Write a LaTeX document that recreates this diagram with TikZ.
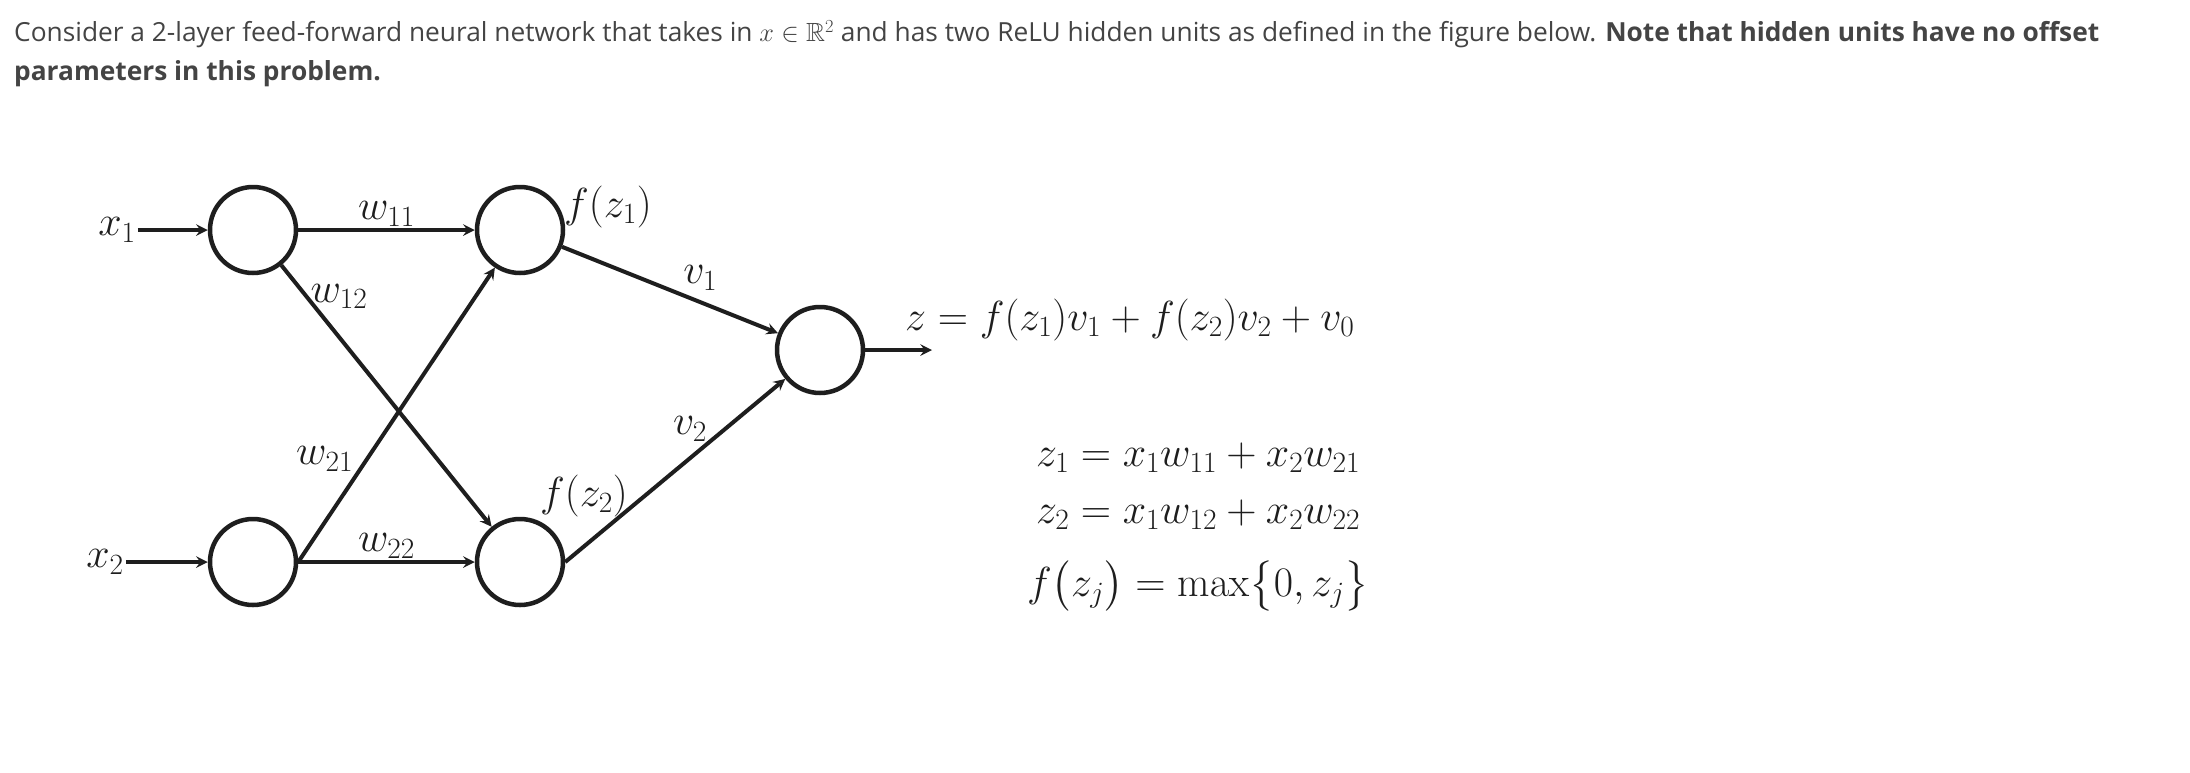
\RequirePackage{fix-cm}
\documentclass[tikz,border=0pt]{standalone}
\usepackage{amsmath}
\usepackage{amssymb}
\usepackage[no-math]{fontspec}
\setmainfont{Open Sans}
\usepackage{xcolor}
\usepackage{tikz}
\usetikzlibrary{arrows, positioning}
\definecolor{qtext}{HTML}{444444}
\definecolor{netblack}{HTML}{1E1E1E}
\tikzstyle{neuron} = [circle, minimum size=86pt, inner sep=0pt, draw=netblack, line width=4.5pt]
\tikzstyle{arrow} = [line width=4pt, draw=netblack, ->, >=stealth]
\tikzstyle{lbl} = [text=netblack, font=\fontsize{42}{50}\selectfont, inner sep=2pt]
\tikzstyle{eqn} = [lbl, anchor=west, inner sep=0pt]

\begin{document}
\begin{tikzpicture}[x=1pt, y=1pt, node distance=267pt, on grid]

\useasboundingbox (0,0) rectangle (2190,-772);
\fill[white] (0,0) rectangle (2190,-772);

% Question
\node (question) [anchor=north west, align=left, text=qtext, font=\fontsize{26.3}{39}\selectfont, inner sep=0pt] at (14,-20) {Consider a 2-layer feed-forward neural network that takes in $x \in \mathbb{R}^2$ and has two ReLU hidden units as defined in the figure below. \textbf{Note that hidden units have no offset}\\\textbf{parameters in this problem.}};

% Input layer
\node (in1) [neuron] at (253,-230) {};
\node (in2) [neuron, below=332pt of in1] {};

% Hidden layer
\node (h1) [neuron, right=of in1] {};
\node (h2) [neuron, right=of in2] {};

% Output
\node (out) [neuron, below right=120pt and 300pt of h1] {};
\coordinate [right=112pt of out] (zout);

% Input labels
\node (x1) [lbl, left=136pt of in1] {$x_1$};
\node (x2) [lbl, left=148pt of in2] {$x_2$};

% Activation labels
\node (fz1) [lbl, above right=23pt and 88pt of h1] {$f(z_1)$};
\node (fz2) [lbl, above right=66pt and 64pt of h2] {$f(z_2)$};

% Equations
\node (zeq) [eqn] at (905,-320) {$z = f(z_1)v_1 + f(z_2)v_2 + v_0$};
\node (z1eq) [eqn] at (1036,-458) {$z_1 = x_1w_{11} + x_2w_{21}$};
\node (z2eq) [eqn] at (1036,-515) {$z_2 = x_1w_{12} + x_2w_{22}$};
\node (feq) [eqn] at (1027,-586) {$f\bigl(z_j\bigr) = \max\bigl\{0, z_j\bigr\}$};

% Arrows
\draw [arrow] (x1) -- (in1);
\draw [arrow] (x2) -- (in2);
\draw [arrow] (in1) -- node[lbl, above] {$w_{11}$} (h1);
\draw [arrow] (in1) -- node[lbl, pos=0.12, anchor=west] {$w_{12}$} (h2);
\draw [arrow] (in2.east) -- node[lbl, pos=0.35, anchor=east, xshift=-10pt] {$w_{21}$} (h1);
\draw [arrow] (in2) -- node[lbl, above] {$w_{22}$} (h2);
\draw [arrow] (h1) -- node[lbl, pos=0.64, above, yshift=8pt] {$v_1$} (out);
\draw [arrow] (h2.east) -- node[lbl, pos=0.54, above, yshift=18pt, xshift=6pt] {$v_2$} (out);
\draw [arrow] (out) -- (zout);

\end{tikzpicture}
\end{document}
